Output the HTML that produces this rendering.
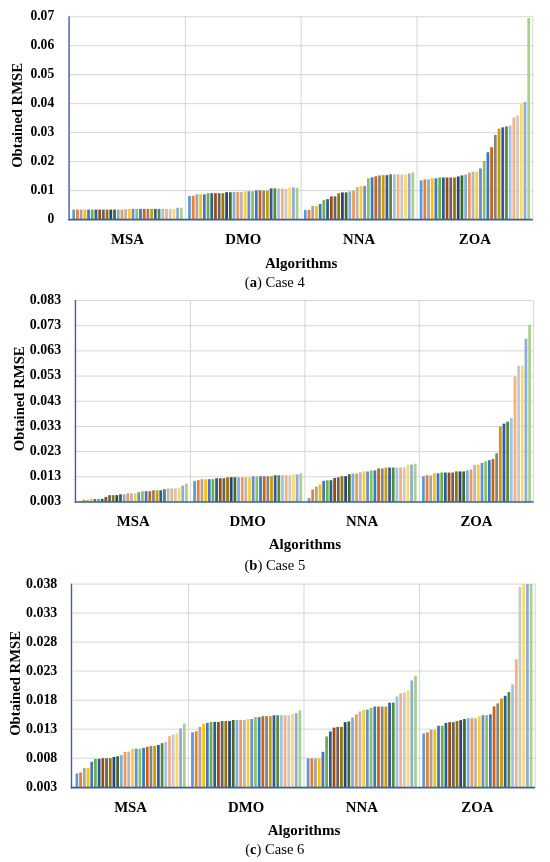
<!DOCTYPE html>
<html><head><meta charset="utf-8"><title>Obtained RMSE</title>
<style>html,body{margin:0;padding:0;background:#fff}svg{display:block}text{font-family:"Liberation Serif","DejaVu Serif",serif;fill:#000}.b{font-weight:bold}</style></head><body>
<svg width="550" height="862" viewBox="0 0 550 862">
<rect width="550" height="862" fill="#fff"/>
<g><line x1="69.60" x2="532.80" y1="16.70" y2="16.70" stroke="#CFCFCF" stroke-width="0.85"/>
<line x1="69.60" x2="532.80" y1="45.69" y2="45.69" stroke="#CFCFCF" stroke-width="0.85"/>
<line x1="69.60" x2="532.80" y1="74.67" y2="74.67" stroke="#CFCFCF" stroke-width="0.85"/>
<line x1="69.60" x2="532.80" y1="103.66" y2="103.66" stroke="#CFCFCF" stroke-width="0.85"/>
<line x1="69.60" x2="532.80" y1="132.64" y2="132.64" stroke="#CFCFCF" stroke-width="0.85"/>
<line x1="69.60" x2="532.80" y1="161.63" y2="161.63" stroke="#CFCFCF" stroke-width="0.85"/>
<line x1="69.60" x2="532.80" y1="190.61" y2="190.61" stroke="#CFCFCF" stroke-width="0.85"/>
<line x1="185.40" x2="185.40" y1="16.70" y2="219.60" stroke="#CFCFCF" stroke-width="0.85"/>
<line x1="301.20" x2="301.20" y1="16.70" y2="219.60" stroke="#CFCFCF" stroke-width="0.85"/>
<line x1="417.00" x2="417.00" y1="16.70" y2="219.60" stroke="#CFCFCF" stroke-width="0.85"/>
<line x1="532.80" x2="532.80" y1="16.70" y2="219.60" stroke="#CFCFCF" stroke-width="0.85"/>
<rect x="72.32" y="209.60" width="2.75" height="10.00" fill="#5B9BD5"/>
<rect x="76.03" y="209.60" width="2.75" height="10.00" fill="#ED7D31"/>
<rect x="79.74" y="209.60" width="2.75" height="10.00" fill="#A5A5A5"/>
<rect x="83.45" y="209.60" width="2.75" height="10.00" fill="#FFC000"/>
<rect x="87.16" y="209.60" width="2.75" height="10.00" fill="#4472C4"/>
<rect x="90.87" y="209.60" width="2.75" height="10.00" fill="#70AD47"/>
<rect x="94.58" y="209.60" width="2.75" height="10.00" fill="#255E91"/>
<rect x="98.29" y="209.60" width="2.75" height="10.00" fill="#9E480E"/>
<rect x="102.01" y="209.60" width="2.75" height="10.00" fill="#636363"/>
<rect x="105.72" y="209.60" width="2.75" height="10.00" fill="#997300"/>
<rect x="109.43" y="209.60" width="2.75" height="10.00" fill="#264478"/>
<rect x="113.14" y="209.60" width="2.75" height="10.00" fill="#43682B"/>
<rect x="116.85" y="209.60" width="2.75" height="10.00" fill="#7CAFDD"/>
<rect x="120.56" y="209.60" width="2.75" height="10.00" fill="#F1975A"/>
<rect x="124.27" y="209.17" width="2.75" height="10.43" fill="#B7B7B7"/>
<rect x="127.98" y="208.88" width="2.75" height="10.72" fill="#FFCD33"/>
<rect x="131.69" y="208.88" width="2.75" height="10.72" fill="#698ED0"/>
<rect x="135.40" y="208.88" width="2.75" height="10.72" fill="#8CC168"/>
<rect x="139.11" y="208.88" width="2.75" height="10.72" fill="#327DC2"/>
<rect x="142.82" y="208.88" width="2.75" height="10.72" fill="#D26012"/>
<rect x="146.53" y="208.88" width="2.75" height="10.72" fill="#848484"/>
<rect x="150.24" y="208.88" width="2.75" height="10.72" fill="#CC9A00"/>
<rect x="153.96" y="208.88" width="2.75" height="10.72" fill="#335AA1"/>
<rect x="157.67" y="208.88" width="2.75" height="10.72" fill="#5A8A39"/>
<rect x="161.38" y="208.88" width="2.75" height="10.72" fill="#9DC3E6"/>
<rect x="165.09" y="208.88" width="2.75" height="10.72" fill="#F4B183"/>
<rect x="168.80" y="208.88" width="2.75" height="10.72" fill="#C9C9C9"/>
<rect x="172.51" y="208.88" width="2.75" height="10.72" fill="#FFD966"/>
<rect x="176.22" y="207.80" width="2.75" height="11.80" fill="#8FAADC"/>
<rect x="179.93" y="207.80" width="2.75" height="11.80" fill="#A9D18E"/>
<rect x="188.12" y="195.83" width="2.75" height="23.77" fill="#5B9BD5"/>
<rect x="191.83" y="195.83" width="2.75" height="23.77" fill="#ED7D31"/>
<rect x="195.54" y="194.27" width="2.75" height="25.33" fill="#A5A5A5"/>
<rect x="199.25" y="194.27" width="2.75" height="25.33" fill="#FFC000"/>
<rect x="202.96" y="194.38" width="2.75" height="25.22" fill="#4472C4"/>
<rect x="206.67" y="193.22" width="2.75" height="26.38" fill="#70AD47"/>
<rect x="210.38" y="193.22" width="2.75" height="26.38" fill="#255E91"/>
<rect x="214.09" y="193.22" width="2.75" height="26.38" fill="#9E480E"/>
<rect x="217.81" y="193.22" width="2.75" height="26.38" fill="#636363"/>
<rect x="221.52" y="193.22" width="2.75" height="26.38" fill="#997300"/>
<rect x="225.23" y="192.21" width="2.75" height="27.39" fill="#264478"/>
<rect x="228.94" y="192.21" width="2.75" height="27.39" fill="#43682B"/>
<rect x="232.65" y="192.06" width="2.75" height="27.54" fill="#7CAFDD"/>
<rect x="236.36" y="192.06" width="2.75" height="27.54" fill="#F1975A"/>
<rect x="240.07" y="192.06" width="2.75" height="27.54" fill="#B7B7B7"/>
<rect x="243.78" y="191.19" width="2.75" height="28.41" fill="#FFCD33"/>
<rect x="247.49" y="191.19" width="2.75" height="28.41" fill="#698ED0"/>
<rect x="251.20" y="191.19" width="2.75" height="28.41" fill="#8CC168"/>
<rect x="254.91" y="190.32" width="2.75" height="29.28" fill="#327DC2"/>
<rect x="258.62" y="190.32" width="2.75" height="29.28" fill="#D26012"/>
<rect x="262.33" y="190.61" width="2.75" height="28.99" fill="#848484"/>
<rect x="266.04" y="190.61" width="2.75" height="28.99" fill="#CC9A00"/>
<rect x="269.76" y="188.41" width="2.75" height="31.19" fill="#335AA1"/>
<rect x="273.47" y="188.30" width="2.75" height="31.30" fill="#5A8A39"/>
<rect x="277.18" y="188.59" width="2.75" height="31.01" fill="#9DC3E6"/>
<rect x="280.89" y="188.59" width="2.75" height="31.01" fill="#F4B183"/>
<rect x="284.60" y="188.88" width="2.75" height="30.72" fill="#C9C9C9"/>
<rect x="288.31" y="187.72" width="2.75" height="31.88" fill="#FFD966"/>
<rect x="292.02" y="187.43" width="2.75" height="32.17" fill="#8FAADC"/>
<rect x="295.73" y="187.72" width="2.75" height="31.88" fill="#A9D18E"/>
<rect x="303.92" y="210.03" width="2.75" height="9.57" fill="#5B9BD5"/>
<rect x="307.63" y="210.03" width="2.75" height="9.57" fill="#ED7D31"/>
<rect x="311.34" y="206.06" width="2.75" height="13.54" fill="#A5A5A5"/>
<rect x="315.05" y="206.06" width="2.75" height="13.54" fill="#FFC000"/>
<rect x="318.76" y="204.03" width="2.75" height="15.57" fill="#4472C4"/>
<rect x="322.47" y="200.09" width="2.75" height="19.51" fill="#70AD47"/>
<rect x="326.18" y="199.19" width="2.75" height="20.41" fill="#255E91"/>
<rect x="329.89" y="196.41" width="2.75" height="23.19" fill="#9E480E"/>
<rect x="333.61" y="196.41" width="2.75" height="23.19" fill="#636363"/>
<rect x="337.32" y="193.31" width="2.75" height="26.29" fill="#997300"/>
<rect x="341.03" y="192.41" width="2.75" height="27.19" fill="#264478"/>
<rect x="344.74" y="192.41" width="2.75" height="27.19" fill="#43682B"/>
<rect x="348.45" y="191.40" width="2.75" height="28.20" fill="#7CAFDD"/>
<rect x="352.16" y="190.61" width="2.75" height="28.99" fill="#F1975A"/>
<rect x="355.87" y="186.99" width="2.75" height="32.61" fill="#B7B7B7"/>
<rect x="359.58" y="185.98" width="2.75" height="33.62" fill="#FFCD33"/>
<rect x="363.29" y="186.09" width="2.75" height="33.51" fill="#698ED0"/>
<rect x="367.00" y="178.21" width="2.75" height="41.39" fill="#8CC168"/>
<rect x="370.71" y="177.31" width="2.75" height="42.29" fill="#327DC2"/>
<rect x="374.42" y="176.30" width="2.75" height="43.30" fill="#D26012"/>
<rect x="378.13" y="175.40" width="2.75" height="44.20" fill="#848484"/>
<rect x="381.84" y="175.16" width="2.75" height="44.44" fill="#CC9A00"/>
<rect x="385.56" y="175.16" width="2.75" height="44.44" fill="#335AA1"/>
<rect x="389.27" y="174.27" width="2.75" height="45.33" fill="#5A8A39"/>
<rect x="392.98" y="174.27" width="2.75" height="45.33" fill="#9DC3E6"/>
<rect x="396.69" y="174.27" width="2.75" height="45.33" fill="#F4B183"/>
<rect x="400.40" y="174.50" width="2.75" height="45.10" fill="#C9C9C9"/>
<rect x="404.11" y="174.27" width="2.75" height="45.33" fill="#FFD966"/>
<rect x="407.82" y="173.51" width="2.75" height="46.09" fill="#8FAADC"/>
<rect x="411.53" y="172.35" width="2.75" height="47.25" fill="#A9D18E"/>
<rect x="419.72" y="180.35" width="2.75" height="39.25" fill="#5B9BD5"/>
<rect x="423.43" y="179.34" width="2.75" height="40.26" fill="#ED7D31"/>
<rect x="427.14" y="179.34" width="2.75" height="40.26" fill="#A5A5A5"/>
<rect x="430.85" y="178.32" width="2.75" height="41.28" fill="#FFC000"/>
<rect x="434.56" y="178.32" width="2.75" height="41.28" fill="#4472C4"/>
<rect x="438.27" y="177.48" width="2.75" height="42.12" fill="#70AD47"/>
<rect x="441.98" y="177.48" width="2.75" height="42.12" fill="#255E91"/>
<rect x="445.69" y="177.48" width="2.75" height="42.12" fill="#9E480E"/>
<rect x="449.41" y="177.48" width="2.75" height="42.12" fill="#636363"/>
<rect x="453.12" y="177.48" width="2.75" height="42.12" fill="#997300"/>
<rect x="456.83" y="176.47" width="2.75" height="43.13" fill="#264478"/>
<rect x="460.54" y="175.45" width="2.75" height="44.15" fill="#43682B"/>
<rect x="464.25" y="174.59" width="2.75" height="45.01" fill="#7CAFDD"/>
<rect x="467.96" y="172.59" width="2.75" height="47.01" fill="#F1975A"/>
<rect x="471.67" y="171.72" width="2.75" height="47.88" fill="#B7B7B7"/>
<rect x="475.38" y="171.63" width="2.75" height="47.97" fill="#FFCD33"/>
<rect x="479.09" y="168.38" width="2.75" height="51.22" fill="#698ED0"/>
<rect x="482.80" y="160.93" width="2.75" height="58.67" fill="#8CC168"/>
<rect x="486.51" y="152.24" width="2.75" height="67.36" fill="#327DC2"/>
<rect x="490.22" y="147.25" width="2.75" height="72.35" fill="#D26012"/>
<rect x="493.93" y="134.82" width="2.75" height="84.78" fill="#848484"/>
<rect x="497.64" y="128.61" width="2.75" height="90.99" fill="#CC9A00"/>
<rect x="501.36" y="127.37" width="2.75" height="92.23" fill="#335AA1"/>
<rect x="505.07" y="126.38" width="2.75" height="93.22" fill="#5A8A39"/>
<rect x="508.78" y="125.63" width="2.75" height="93.97" fill="#9DC3E6"/>
<rect x="512.49" y="117.43" width="2.75" height="102.17" fill="#F4B183"/>
<rect x="516.20" y="115.69" width="2.75" height="103.91" fill="#C9C9C9"/>
<rect x="519.91" y="104.00" width="2.75" height="115.60" fill="#FFD966"/>
<rect x="523.62" y="102.00" width="2.75" height="117.60" fill="#8FAADC"/>
<rect x="527.33" y="18.00" width="2.75" height="201.60" fill="#A9D18E"/>
<line x1="69.10" x2="69.10" y1="16.20" y2="220.45" stroke="#3F5D9C" stroke-width="1.4"/>
<line x1="68.40" x2="532.80" y1="219.60" y2="219.60" stroke="#3F5D9C" stroke-width="1.7"/>
<text class="b" x="54.2" y="20.10" font-size="13.6" text-anchor="end">0.07</text>
<text class="b" x="54.2" y="49.09" font-size="13.6" text-anchor="end">0.06</text>
<text class="b" x="54.2" y="78.07" font-size="13.6" text-anchor="end">0.05</text>
<text class="b" x="54.2" y="107.06" font-size="13.6" text-anchor="end">0.04</text>
<text class="b" x="54.2" y="136.04" font-size="13.6" text-anchor="end">0.03</text>
<text class="b" x="54.2" y="165.03" font-size="13.6" text-anchor="end">0.02</text>
<text class="b" x="54.2" y="194.01" font-size="13.6" text-anchor="end">0.01</text>
<text class="b" x="54.2" y="223.00" font-size="13.6" text-anchor="end">0</text>
<text class="b" transform="translate(22.2,115.4) rotate(-90)" font-size="14.7" text-anchor="middle">Obtained RMSE</text>
<text class="b" x="127.5" y="244.2" font-size="14.8" text-anchor="middle">MSA</text>
<text class="b" x="243.3" y="244.2" font-size="14.8" text-anchor="middle">DMO</text>
<text class="b" x="359.1" y="244.2" font-size="14.8" text-anchor="middle">NNA</text>
<text class="b" x="474.9" y="244.2" font-size="14.8" text-anchor="middle">ZOA</text>
<text class="b" x="301.2" y="267.6" font-size="15.0" text-anchor="middle">Algorithms</text>
<text x="274.8" y="287.1" font-size="14.6" text-anchor="middle">(<tspan class="b">a</tspan>) Case 4</text></g>
<g><line x1="76.10" x2="533.70" y1="300.50" y2="300.50" stroke="#CFCFCF" stroke-width="0.85"/>
<line x1="76.10" x2="533.70" y1="325.69" y2="325.69" stroke="#CFCFCF" stroke-width="0.85"/>
<line x1="76.10" x2="533.70" y1="350.88" y2="350.88" stroke="#CFCFCF" stroke-width="0.85"/>
<line x1="76.10" x2="533.70" y1="376.06" y2="376.06" stroke="#CFCFCF" stroke-width="0.85"/>
<line x1="76.10" x2="533.70" y1="401.25" y2="401.25" stroke="#CFCFCF" stroke-width="0.85"/>
<line x1="76.10" x2="533.70" y1="426.44" y2="426.44" stroke="#CFCFCF" stroke-width="0.85"/>
<line x1="76.10" x2="533.70" y1="451.62" y2="451.62" stroke="#CFCFCF" stroke-width="0.85"/>
<line x1="76.10" x2="533.70" y1="476.81" y2="476.81" stroke="#CFCFCF" stroke-width="0.85"/>
<line x1="190.50" x2="190.50" y1="300.50" y2="502.00" stroke="#CFCFCF" stroke-width="0.85"/>
<line x1="304.90" x2="304.90" y1="300.50" y2="502.00" stroke="#CFCFCF" stroke-width="0.85"/>
<line x1="419.30" x2="419.30" y1="300.50" y2="502.00" stroke="#CFCFCF" stroke-width="0.85"/>
<line x1="533.70" x2="533.70" y1="300.50" y2="502.00" stroke="#CFCFCF" stroke-width="0.85"/>
<rect x="78.82" y="501.24" width="2.75" height="0.76" fill="#5B9BD5"/>
<rect x="82.48" y="499.81" width="2.75" height="2.19" fill="#ED7D31"/>
<rect x="86.14" y="500.11" width="2.75" height="1.89" fill="#A5A5A5"/>
<rect x="89.81" y="498.80" width="2.75" height="3.20" fill="#FFC000"/>
<rect x="93.47" y="499.08" width="2.75" height="2.92" fill="#4472C4"/>
<rect x="97.13" y="499.08" width="2.75" height="2.92" fill="#70AD47"/>
<rect x="100.79" y="498.80" width="2.75" height="3.20" fill="#255E91"/>
<rect x="104.46" y="496.91" width="2.75" height="5.09" fill="#9E480E"/>
<rect x="108.12" y="495.15" width="2.75" height="6.85" fill="#636363"/>
<rect x="111.78" y="495.15" width="2.75" height="6.85" fill="#997300"/>
<rect x="115.44" y="495.15" width="2.75" height="6.85" fill="#264478"/>
<rect x="119.11" y="494.29" width="2.75" height="7.71" fill="#43682B"/>
<rect x="122.77" y="494.29" width="2.75" height="7.71" fill="#7CAFDD"/>
<rect x="126.43" y="493.26" width="2.75" height="8.74" fill="#F1975A"/>
<rect x="130.09" y="493.39" width="2.75" height="8.61" fill="#B7B7B7"/>
<rect x="133.76" y="493.39" width="2.75" height="8.61" fill="#FFCD33"/>
<rect x="137.42" y="492.20" width="2.75" height="9.80" fill="#698ED0"/>
<rect x="141.08" y="491.19" width="2.75" height="10.81" fill="#8CC168"/>
<rect x="144.74" y="491.19" width="2.75" height="10.81" fill="#327DC2"/>
<rect x="148.41" y="491.19" width="2.75" height="10.81" fill="#D26012"/>
<rect x="152.07" y="490.29" width="2.75" height="11.71" fill="#848484"/>
<rect x="155.73" y="490.29" width="2.75" height="11.71" fill="#CC9A00"/>
<rect x="159.39" y="490.29" width="2.75" height="11.71" fill="#335AA1"/>
<rect x="163.06" y="489.28" width="2.75" height="12.72" fill="#5A8A39"/>
<rect x="166.72" y="488.40" width="2.75" height="13.60" fill="#9DC3E6"/>
<rect x="170.38" y="488.40" width="2.75" height="13.60" fill="#F4B183"/>
<rect x="174.04" y="488.40" width="2.75" height="13.60" fill="#C9C9C9"/>
<rect x="177.71" y="487.49" width="2.75" height="14.51" fill="#FFD966"/>
<rect x="181.37" y="485.58" width="2.75" height="16.42" fill="#8FAADC"/>
<rect x="185.03" y="483.56" width="2.75" height="18.44" fill="#A9D18E"/>
<rect x="193.22" y="481.02" width="2.75" height="20.98" fill="#5B9BD5"/>
<rect x="196.88" y="480.11" width="2.75" height="21.89" fill="#ED7D31"/>
<rect x="200.54" y="479.23" width="2.75" height="22.77" fill="#A5A5A5"/>
<rect x="204.21" y="479.23" width="2.75" height="22.77" fill="#FFC000"/>
<rect x="207.87" y="479.23" width="2.75" height="22.77" fill="#4472C4"/>
<rect x="211.53" y="479.23" width="2.75" height="22.77" fill="#70AD47"/>
<rect x="215.19" y="478.22" width="2.75" height="23.78" fill="#255E91"/>
<rect x="218.86" y="478.22" width="2.75" height="23.78" fill="#9E480E"/>
<rect x="222.52" y="478.22" width="2.75" height="23.78" fill="#636363"/>
<rect x="226.18" y="477.32" width="2.75" height="24.68" fill="#997300"/>
<rect x="229.84" y="477.19" width="2.75" height="24.81" fill="#264478"/>
<rect x="233.51" y="477.19" width="2.75" height="24.81" fill="#43682B"/>
<rect x="237.17" y="477.32" width="2.75" height="24.68" fill="#7CAFDD"/>
<rect x="240.83" y="477.32" width="2.75" height="24.68" fill="#F1975A"/>
<rect x="244.49" y="477.32" width="2.75" height="24.68" fill="#B7B7B7"/>
<rect x="248.16" y="477.32" width="2.75" height="24.68" fill="#FFCD33"/>
<rect x="251.82" y="476.31" width="2.75" height="25.69" fill="#698ED0"/>
<rect x="255.48" y="476.31" width="2.75" height="25.69" fill="#8CC168"/>
<rect x="259.14" y="476.31" width="2.75" height="25.69" fill="#327DC2"/>
<rect x="262.81" y="476.31" width="2.75" height="25.69" fill="#D26012"/>
<rect x="266.47" y="476.31" width="2.75" height="25.69" fill="#848484"/>
<rect x="270.13" y="476.31" width="2.75" height="25.69" fill="#CC9A00"/>
<rect x="273.79" y="475.28" width="2.75" height="26.72" fill="#335AA1"/>
<rect x="277.46" y="475.28" width="2.75" height="26.72" fill="#5A8A39"/>
<rect x="281.12" y="475.28" width="2.75" height="26.72" fill="#9DC3E6"/>
<rect x="284.78" y="475.28" width="2.75" height="26.72" fill="#F4B183"/>
<rect x="288.44" y="475.28" width="2.75" height="26.72" fill="#C9C9C9"/>
<rect x="292.11" y="474.39" width="2.75" height="27.61" fill="#FFD966"/>
<rect x="295.77" y="474.39" width="2.75" height="27.61" fill="#8FAADC"/>
<rect x="299.43" y="473.39" width="2.75" height="28.61" fill="#A9D18E"/>
<rect x="307.62" y="498.10" width="2.75" height="3.90" fill="#5B9BD5"/>
<rect x="311.28" y="489.58" width="2.75" height="12.42" fill="#ED7D31"/>
<rect x="314.94" y="486.66" width="2.75" height="15.34" fill="#A5A5A5"/>
<rect x="318.61" y="484.44" width="2.75" height="17.56" fill="#FFC000"/>
<rect x="322.27" y="480.89" width="2.75" height="21.11" fill="#4472C4"/>
<rect x="325.93" y="480.24" width="2.75" height="21.76" fill="#70AD47"/>
<rect x="329.59" y="480.24" width="2.75" height="21.76" fill="#255E91"/>
<rect x="333.26" y="477.95" width="2.75" height="24.05" fill="#9E480E"/>
<rect x="336.92" y="477.32" width="2.75" height="24.68" fill="#636363"/>
<rect x="340.58" y="476.18" width="2.75" height="25.82" fill="#997300"/>
<rect x="344.24" y="476.18" width="2.75" height="25.82" fill="#264478"/>
<rect x="347.91" y="474.27" width="2.75" height="27.73" fill="#43682B"/>
<rect x="351.57" y="473.51" width="2.75" height="28.49" fill="#7CAFDD"/>
<rect x="355.23" y="473.51" width="2.75" height="28.49" fill="#F1975A"/>
<rect x="358.89" y="472.35" width="2.75" height="29.65" fill="#B7B7B7"/>
<rect x="362.56" y="471.35" width="2.75" height="30.65" fill="#FFCD33"/>
<rect x="366.22" y="471.35" width="2.75" height="30.65" fill="#698ED0"/>
<rect x="369.88" y="470.44" width="2.75" height="31.56" fill="#8CC168"/>
<rect x="373.54" y="470.44" width="2.75" height="31.56" fill="#327DC2"/>
<rect x="377.21" y="468.43" width="2.75" height="33.57" fill="#D26012"/>
<rect x="380.87" y="468.43" width="2.75" height="33.57" fill="#848484"/>
<rect x="384.53" y="467.52" width="2.75" height="34.48" fill="#CC9A00"/>
<rect x="388.19" y="467.52" width="2.75" height="34.48" fill="#335AA1"/>
<rect x="391.86" y="467.52" width="2.75" height="34.48" fill="#5A8A39"/>
<rect x="395.52" y="467.52" width="2.75" height="34.48" fill="#9DC3E6"/>
<rect x="399.18" y="467.52" width="2.75" height="34.48" fill="#F4B183"/>
<rect x="402.84" y="467.52" width="2.75" height="34.48" fill="#C9C9C9"/>
<rect x="406.51" y="464.60" width="2.75" height="37.40" fill="#FFD966"/>
<rect x="410.17" y="464.60" width="2.75" height="37.40" fill="#8FAADC"/>
<rect x="413.83" y="463.71" width="2.75" height="38.29" fill="#A9D18E"/>
<rect x="422.02" y="476.36" width="2.75" height="25.64" fill="#5B9BD5"/>
<rect x="425.68" y="475.23" width="2.75" height="26.77" fill="#ED7D31"/>
<rect x="429.34" y="475.48" width="2.75" height="26.52" fill="#A5A5A5"/>
<rect x="433.01" y="473.31" width="2.75" height="28.69" fill="#FFC000"/>
<rect x="436.67" y="473.31" width="2.75" height="28.69" fill="#4472C4"/>
<rect x="440.33" y="472.53" width="2.75" height="29.47" fill="#70AD47"/>
<rect x="443.99" y="472.53" width="2.75" height="29.47" fill="#255E91"/>
<rect x="447.66" y="472.53" width="2.75" height="29.47" fill="#9E480E"/>
<rect x="451.32" y="472.53" width="2.75" height="29.47" fill="#636363"/>
<rect x="454.98" y="471.40" width="2.75" height="30.60" fill="#997300"/>
<rect x="458.64" y="471.40" width="2.75" height="30.60" fill="#264478"/>
<rect x="462.31" y="471.40" width="2.75" height="30.60" fill="#43682B"/>
<rect x="465.97" y="470.36" width="2.75" height="31.64" fill="#7CAFDD"/>
<rect x="469.63" y="469.48" width="2.75" height="32.52" fill="#F1975A"/>
<rect x="473.29" y="464.90" width="2.75" height="37.10" fill="#B7B7B7"/>
<rect x="476.96" y="464.62" width="2.75" height="37.38" fill="#FFCD33"/>
<rect x="480.62" y="462.96" width="2.75" height="39.04" fill="#698ED0"/>
<rect x="484.28" y="461.32" width="2.75" height="40.68" fill="#8CC168"/>
<rect x="487.94" y="460.21" width="2.75" height="41.79" fill="#327DC2"/>
<rect x="491.61" y="458.95" width="2.75" height="43.05" fill="#D26012"/>
<rect x="495.27" y="453.24" width="2.75" height="48.76" fill="#848484"/>
<rect x="498.93" y="426.61" width="2.75" height="75.39" fill="#CC9A00"/>
<rect x="502.59" y="423.64" width="2.75" height="78.36" fill="#335AA1"/>
<rect x="506.26" y="421.65" width="2.75" height="80.35" fill="#5A8A39"/>
<rect x="509.92" y="417.92" width="2.75" height="84.08" fill="#9DC3E6"/>
<rect x="513.58" y="376.36" width="2.75" height="125.64" fill="#F4B183"/>
<rect x="517.24" y="365.69" width="2.75" height="136.31" fill="#C9C9C9"/>
<rect x="520.91" y="365.69" width="2.75" height="136.31" fill="#FFD966"/>
<rect x="524.57" y="338.81" width="2.75" height="163.19" fill="#8FAADC"/>
<rect x="528.23" y="324.63" width="2.75" height="177.37" fill="#A9D18E"/>
<line x1="75.45" x2="75.45" y1="300.00" y2="502.85" stroke="#3F5D9C" stroke-width="1.4"/>
<line x1="74.75" x2="533.70" y1="502.00" y2="502.00" stroke="#3F5D9C" stroke-width="1.7"/>
<text class="b" x="61.1" y="303.90" font-size="13.9" text-anchor="end">0.083</text>
<text class="b" x="61.1" y="329.09" font-size="13.9" text-anchor="end">0.073</text>
<text class="b" x="61.1" y="354.27" font-size="13.9" text-anchor="end">0.063</text>
<text class="b" x="61.1" y="379.46" font-size="13.9" text-anchor="end">0.053</text>
<text class="b" x="61.1" y="404.65" font-size="13.9" text-anchor="end">0.043</text>
<text class="b" x="61.1" y="429.84" font-size="13.9" text-anchor="end">0.033</text>
<text class="b" x="61.1" y="455.02" font-size="13.9" text-anchor="end">0.023</text>
<text class="b" x="61.1" y="480.21" font-size="13.9" text-anchor="end">0.013</text>
<text class="b" x="61.1" y="505.40" font-size="13.9" text-anchor="end">0.003</text>
<text class="b" transform="translate(23.8,398.8) rotate(-90)" font-size="14.7" text-anchor="middle">Obtained RMSE</text>
<text class="b" x="133.3" y="526.3" font-size="14.8" text-anchor="middle">MSA</text>
<text class="b" x="247.7" y="526.3" font-size="14.8" text-anchor="middle">DMO</text>
<text class="b" x="362.1" y="526.3" font-size="14.8" text-anchor="middle">NNA</text>
<text class="b" x="476.5" y="526.3" font-size="14.8" text-anchor="middle">ZOA</text>
<text class="b" x="304.9" y="549.1" font-size="15.0" text-anchor="middle">Algorithms</text>
<text x="274.8" y="569.5" font-size="14.6" text-anchor="middle">(<tspan class="b">b</tspan>) Case 5</text></g>
<g><line x1="72.80" x2="535.20" y1="584.10" y2="584.10" stroke="#CFCFCF" stroke-width="0.85"/>
<line x1="72.80" x2="535.20" y1="613.11" y2="613.11" stroke="#CFCFCF" stroke-width="0.85"/>
<line x1="72.80" x2="535.20" y1="642.13" y2="642.13" stroke="#CFCFCF" stroke-width="0.85"/>
<line x1="72.80" x2="535.20" y1="671.14" y2="671.14" stroke="#CFCFCF" stroke-width="0.85"/>
<line x1="72.80" x2="535.20" y1="700.16" y2="700.16" stroke="#CFCFCF" stroke-width="0.85"/>
<line x1="72.80" x2="535.20" y1="729.17" y2="729.17" stroke="#CFCFCF" stroke-width="0.85"/>
<line x1="72.80" x2="535.20" y1="758.19" y2="758.19" stroke="#CFCFCF" stroke-width="0.85"/>
<line x1="188.40" x2="188.40" y1="584.10" y2="787.20" stroke="#CFCFCF" stroke-width="0.85"/>
<line x1="304.00" x2="304.00" y1="584.10" y2="787.20" stroke="#CFCFCF" stroke-width="0.85"/>
<line x1="419.60" x2="419.60" y1="584.10" y2="787.20" stroke="#CFCFCF" stroke-width="0.85"/>
<line x1="535.20" x2="535.20" y1="584.10" y2="787.20" stroke="#CFCFCF" stroke-width="0.85"/>
<rect x="75.52" y="773.39" width="2.75" height="13.81" fill="#5B9BD5"/>
<rect x="79.22" y="772.40" width="2.75" height="14.80" fill="#ED7D31"/>
<rect x="82.93" y="767.88" width="2.75" height="19.32" fill="#A5A5A5"/>
<rect x="86.63" y="767.88" width="2.75" height="19.32" fill="#FFC000"/>
<rect x="90.34" y="761.78" width="2.75" height="25.42" fill="#4472C4"/>
<rect x="94.04" y="758.88" width="2.75" height="28.32" fill="#70AD47"/>
<rect x="97.74" y="758.88" width="2.75" height="28.32" fill="#255E91"/>
<rect x="101.45" y="758.19" width="2.75" height="29.01" fill="#9E480E"/>
<rect x="105.15" y="758.19" width="2.75" height="29.01" fill="#636363"/>
<rect x="108.85" y="758.19" width="2.75" height="29.01" fill="#997300"/>
<rect x="112.56" y="756.97" width="2.75" height="30.23" fill="#264478"/>
<rect x="116.26" y="756.27" width="2.75" height="30.93" fill="#43682B"/>
<rect x="119.97" y="755.23" width="2.75" height="31.97" fill="#7CAFDD"/>
<rect x="123.67" y="752.03" width="2.75" height="35.17" fill="#F1975A"/>
<rect x="127.37" y="751.63" width="2.75" height="35.57" fill="#B7B7B7"/>
<rect x="131.08" y="748.67" width="2.75" height="38.53" fill="#FFCD33"/>
<rect x="134.78" y="748.67" width="2.75" height="38.53" fill="#698ED0"/>
<rect x="138.48" y="748.67" width="2.75" height="38.53" fill="#8CC168"/>
<rect x="142.19" y="747.86" width="2.75" height="39.34" fill="#327DC2"/>
<rect x="145.89" y="746.81" width="2.75" height="40.39" fill="#D26012"/>
<rect x="149.60" y="745.94" width="2.75" height="41.26" fill="#848484"/>
<rect x="153.30" y="745.94" width="2.75" height="41.26" fill="#CC9A00"/>
<rect x="157.00" y="744.90" width="2.75" height="42.30" fill="#335AA1"/>
<rect x="160.71" y="743.16" width="2.75" height="44.04" fill="#5A8A39"/>
<rect x="164.41" y="742.00" width="2.75" height="45.20" fill="#9DC3E6"/>
<rect x="168.11" y="736.19" width="2.75" height="51.01" fill="#F4B183"/>
<rect x="171.82" y="734.39" width="2.75" height="52.81" fill="#C9C9C9"/>
<rect x="175.52" y="733.23" width="2.75" height="53.97" fill="#FFD966"/>
<rect x="179.23" y="728.42" width="2.75" height="58.78" fill="#8FAADC"/>
<rect x="182.93" y="723.48" width="2.75" height="63.72" fill="#A9D18E"/>
<rect x="191.12" y="732.36" width="2.75" height="54.84" fill="#5B9BD5"/>
<rect x="194.82" y="731.32" width="2.75" height="55.88" fill="#ED7D31"/>
<rect x="198.53" y="726.85" width="2.75" height="60.35" fill="#A5A5A5"/>
<rect x="202.23" y="723.95" width="2.75" height="63.25" fill="#FFC000"/>
<rect x="205.94" y="722.90" width="2.75" height="64.30" fill="#4472C4"/>
<rect x="209.64" y="721.92" width="2.75" height="65.28" fill="#70AD47"/>
<rect x="213.34" y="721.92" width="2.75" height="65.28" fill="#255E91"/>
<rect x="217.05" y="721.92" width="2.75" height="65.28" fill="#9E480E"/>
<rect x="220.75" y="721.05" width="2.75" height="66.15" fill="#636363"/>
<rect x="224.45" y="721.05" width="2.75" height="66.15" fill="#997300"/>
<rect x="228.16" y="721.05" width="2.75" height="66.15" fill="#264478"/>
<rect x="231.86" y="720.00" width="2.75" height="67.20" fill="#43682B"/>
<rect x="235.57" y="720.00" width="2.75" height="67.20" fill="#7CAFDD"/>
<rect x="239.27" y="720.00" width="2.75" height="67.20" fill="#F1975A"/>
<rect x="242.97" y="720.00" width="2.75" height="67.20" fill="#B7B7B7"/>
<rect x="246.68" y="719.02" width="2.75" height="68.18" fill="#FFCD33"/>
<rect x="250.38" y="719.02" width="2.75" height="68.18" fill="#698ED0"/>
<rect x="254.08" y="717.10" width="2.75" height="70.10" fill="#8CC168"/>
<rect x="257.79" y="717.10" width="2.75" height="70.10" fill="#327DC2"/>
<rect x="261.49" y="716.12" width="2.75" height="71.09" fill="#D26012"/>
<rect x="265.20" y="716.12" width="2.75" height="71.09" fill="#848484"/>
<rect x="268.90" y="716.12" width="2.75" height="71.09" fill="#CC9A00"/>
<rect x="272.60" y="715.24" width="2.75" height="71.96" fill="#335AA1"/>
<rect x="276.31" y="715.24" width="2.75" height="71.96" fill="#5A8A39"/>
<rect x="280.01" y="715.24" width="2.75" height="71.96" fill="#9DC3E6"/>
<rect x="283.71" y="715.24" width="2.75" height="71.96" fill="#F4B183"/>
<rect x="287.42" y="715.24" width="2.75" height="71.96" fill="#C9C9C9"/>
<rect x="291.12" y="714.20" width="2.75" height="73.00" fill="#FFD966"/>
<rect x="294.83" y="713.21" width="2.75" height="73.99" fill="#8FAADC"/>
<rect x="298.53" y="710.31" width="2.75" height="76.89" fill="#A9D18E"/>
<rect x="306.72" y="758.36" width="2.75" height="28.84" fill="#5B9BD5"/>
<rect x="310.42" y="758.36" width="2.75" height="28.84" fill="#ED7D31"/>
<rect x="314.13" y="758.36" width="2.75" height="28.84" fill="#A5A5A5"/>
<rect x="317.83" y="758.36" width="2.75" height="28.84" fill="#FFC000"/>
<rect x="321.54" y="751.80" width="2.75" height="35.40" fill="#4472C4"/>
<rect x="325.24" y="736.48" width="2.75" height="50.72" fill="#70AD47"/>
<rect x="328.94" y="731.49" width="2.75" height="55.71" fill="#255E91"/>
<rect x="332.65" y="727.60" width="2.75" height="59.60" fill="#9E480E"/>
<rect x="336.35" y="726.85" width="2.75" height="60.35" fill="#636363"/>
<rect x="340.05" y="726.85" width="2.75" height="60.35" fill="#997300"/>
<rect x="343.76" y="722.15" width="2.75" height="65.05" fill="#264478"/>
<rect x="347.46" y="721.40" width="2.75" height="65.80" fill="#43682B"/>
<rect x="351.17" y="717.45" width="2.75" height="69.75" fill="#7CAFDD"/>
<rect x="354.87" y="714.37" width="2.75" height="72.83" fill="#F1975A"/>
<rect x="358.57" y="711.53" width="2.75" height="75.67" fill="#B7B7B7"/>
<rect x="362.28" y="709.67" width="2.75" height="77.53" fill="#FFCD33"/>
<rect x="365.98" y="709.67" width="2.75" height="77.53" fill="#698ED0"/>
<rect x="369.68" y="707.82" width="2.75" height="79.38" fill="#8CC168"/>
<rect x="373.39" y="706.54" width="2.75" height="80.66" fill="#327DC2"/>
<rect x="377.09" y="706.54" width="2.75" height="80.66" fill="#D26012"/>
<rect x="380.80" y="706.54" width="2.75" height="80.66" fill="#848484"/>
<rect x="384.50" y="706.54" width="2.75" height="80.66" fill="#CC9A00"/>
<rect x="388.20" y="702.65" width="2.75" height="84.55" fill="#335AA1"/>
<rect x="391.91" y="702.65" width="2.75" height="84.55" fill="#5A8A39"/>
<rect x="395.61" y="696.39" width="2.75" height="90.81" fill="#9DC3E6"/>
<rect x="399.31" y="693.31" width="2.75" height="93.89" fill="#F4B183"/>
<rect x="403.02" y="692.50" width="2.75" height="94.70" fill="#C9C9C9"/>
<rect x="406.72" y="690.18" width="2.75" height="97.02" fill="#FFD966"/>
<rect x="410.43" y="680.49" width="2.75" height="106.71" fill="#8FAADC"/>
<rect x="414.13" y="675.84" width="2.75" height="111.36" fill="#A9D18E"/>
<rect x="422.32" y="733.41" width="2.75" height="53.79" fill="#5B9BD5"/>
<rect x="426.02" y="732.30" width="2.75" height="54.90" fill="#ED7D31"/>
<rect x="429.73" y="729.64" width="2.75" height="57.56" fill="#A5A5A5"/>
<rect x="433.43" y="729.64" width="2.75" height="57.56" fill="#FFC000"/>
<rect x="437.14" y="725.75" width="2.75" height="61.45" fill="#4472C4"/>
<rect x="440.84" y="725.75" width="2.75" height="61.45" fill="#70AD47"/>
<rect x="444.54" y="722.90" width="2.75" height="64.30" fill="#255E91"/>
<rect x="448.25" y="722.15" width="2.75" height="65.05" fill="#9E480E"/>
<rect x="451.95" y="722.15" width="2.75" height="65.05" fill="#636363"/>
<rect x="455.65" y="721.05" width="2.75" height="66.15" fill="#997300"/>
<rect x="459.36" y="720.12" width="2.75" height="67.08" fill="#264478"/>
<rect x="463.06" y="719.02" width="2.75" height="68.18" fill="#43682B"/>
<rect x="466.77" y="718.26" width="2.75" height="68.94" fill="#7CAFDD"/>
<rect x="470.47" y="718.26" width="2.75" height="68.94" fill="#F1975A"/>
<rect x="474.17" y="718.26" width="2.75" height="68.94" fill="#B7B7B7"/>
<rect x="477.88" y="716.35" width="2.75" height="70.85" fill="#FFCD33"/>
<rect x="481.58" y="715.13" width="2.75" height="72.07" fill="#698ED0"/>
<rect x="485.28" y="715.13" width="2.75" height="72.07" fill="#8CC168"/>
<rect x="488.99" y="714.37" width="2.75" height="72.83" fill="#327DC2"/>
<rect x="492.69" y="706.42" width="2.75" height="80.78" fill="#D26012"/>
<rect x="496.40" y="703.41" width="2.75" height="83.79" fill="#848484"/>
<rect x="500.10" y="698.59" width="2.75" height="88.61" fill="#CC9A00"/>
<rect x="503.80" y="695.81" width="2.75" height="91.40" fill="#335AA1"/>
<rect x="507.51" y="692.03" width="2.75" height="95.17" fill="#5A8A39"/>
<rect x="511.21" y="684.37" width="2.75" height="102.83" fill="#9DC3E6"/>
<rect x="514.91" y="659.25" width="2.75" height="127.95" fill="#F4B183"/>
<rect x="518.62" y="586.94" width="2.75" height="200.26" fill="#C9C9C9"/>
<rect x="522.32" y="584.10" width="2.75" height="203.10" fill="#FFD966"/>
<rect x="526.03" y="584.10" width="2.75" height="203.10" fill="#8FAADC"/>
<rect x="529.73" y="584.10" width="2.75" height="203.10" fill="#A9D18E"/>
<line x1="71.50" x2="71.50" y1="583.60" y2="788.45" stroke="#3F5D9C" stroke-width="1.4"/>
<line x1="70.80" x2="535.20" y1="787.60" y2="787.60" stroke="#3F5D9C" stroke-width="1.7"/>
<text class="b" x="57.3" y="587.50" font-size="13.9" text-anchor="end">0.038</text>
<text class="b" x="57.3" y="616.51" font-size="13.9" text-anchor="end">0.033</text>
<text class="b" x="57.3" y="645.53" font-size="13.9" text-anchor="end">0.028</text>
<text class="b" x="57.3" y="674.54" font-size="13.9" text-anchor="end">0.023</text>
<text class="b" x="57.3" y="703.56" font-size="13.9" text-anchor="end">0.018</text>
<text class="b" x="57.3" y="732.57" font-size="13.9" text-anchor="end">0.013</text>
<text class="b" x="57.3" y="761.59" font-size="13.9" text-anchor="end">0.008</text>
<text class="b" x="57.3" y="790.60" font-size="13.9" text-anchor="end">0.003</text>
<text class="b" transform="translate(20.1,683.4) rotate(-90)" font-size="14.7" text-anchor="middle">Obtained RMSE</text>
<text class="b" x="130.6" y="812.0" font-size="14.8" text-anchor="middle">MSA</text>
<text class="b" x="246.2" y="812.0" font-size="14.8" text-anchor="middle">DMO</text>
<text class="b" x="361.8" y="812.0" font-size="14.8" text-anchor="middle">NNA</text>
<text class="b" x="477.4" y="812.0" font-size="14.8" text-anchor="middle">ZOA</text>
<text class="b" x="304.0" y="835.2" font-size="15.0" text-anchor="middle">Algorithms</text>
<text x="274.8" y="854.4" font-size="14.6" text-anchor="middle">(<tspan class="b">c</tspan>) Case 6</text></g>
</svg></body></html>
